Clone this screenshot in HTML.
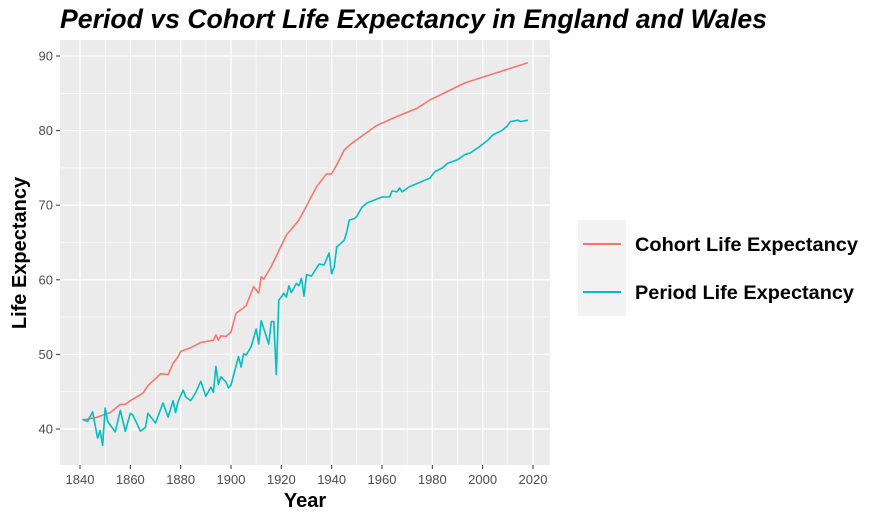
<!DOCTYPE html>
<html><head><meta charset="utf-8"><style>
body{margin:0;background:#fff;}
svg text{font-family:"Liberation Sans",sans-serif;}
</style></head><body>
<svg id="chart" width="877" height="522">
<text x="60" y="28" font-size="26.5" font-weight="bold" font-style="italic" fill="#000" textLength="707" lengthAdjust="spacingAndGlyphs">Period vs Cohort Life Expectancy in England and Wales</text>
<rect x="60" y="40" width="490" height="425" fill="#ebebeb"/>
<g id="grid"></g>
<g id="series"></g>
<g id="axes"></g>
<text x="305" y="507" font-size="20" font-weight="bold" text-anchor="middle">Year</text>
<text transform="translate(26,253) rotate(-90)" font-size="20" font-weight="bold" text-anchor="middle">Life Expectancy</text>
<rect x="578" y="220" width="48" height="96" fill="#f2f2f2"/>
<g>
<line x1="583" y1="244" x2="621" y2="244" stroke="#f8766d" stroke-width="2"/>
<text x="635" y="251" font-size="19" font-weight="bold" textLength="223" lengthAdjust="spacingAndGlyphs">Cohort Life Expectancy</text></g>
<g>
<line x1="583" y1="292" x2="621" y2="292" stroke="#00bfc4" stroke-width="2"/>
<text x="635" y="299" font-size="19" font-weight="bold" textLength="219" lengthAdjust="spacingAndGlyphs">Period Life Expectancy</text></g>
</svg>
<script>
const xTicks=[1840,1860,1880,1900,1920,1940,1960,1980,2000,2020];
const yTicks=[40,50,60,70,80,90];
const cohortYears=[1841,1846,1852,1856,1858,1860,1865,1867,1872,1875,1877,1879,1880,1884,1888,1893,1894,1895,1896,1898,1900,1902,1906,1909,1911,1912,1913,1916,1922,1927,1930,1934,1938,1940,1942,1945,1948,1950,1958,1966,1974,1979,1993,2006,2018];
const cohortValues=[41.2,41.5,42.2,43.3,43.3,43.8,44.8,45.8,47.4,47.3,48.8,49.7,50.4,50.9,51.6,51.9,52.6,51.9,52.5,52.4,53.0,55.5,56.5,59.1,58.2,60.4,60.1,61.8,66.0,68.0,69.9,72.5,74.2,74.2,75.4,77.4,78.3,78.8,80.7,81.9,83.0,84.1,86.4,87.8,89.1];
const periodYears=[1841,1843,1845,1847,1848,1849,1850,1851,1854,1856,1858,1860,1861,1864,1866,1867,1870,1873,1875,1877,1878,1879,1881,1882,1884,1886,1888,1890,1892,1893,1894,1895,1896,1898,1899,1900,1903,1904,1905,1906,1908,1910,1911,1912,1913,1915,1916,1917,1918,1919,1920,1921,1922,1923,1924,1926,1927,1928,1929,1930,1932,1935,1937,1939,1940,1941,1942,1945,1946,1947,1949,1950,1952,1954,1960,1963,1964,1966,1967,1968,1971,1976,1979,1981,1984,1986,1990,1993,1995,1999,2002,2004,2008,2010,2011,2014,2015,2018];
const periodValues=[41.3,41.0,42.3,38.8,39.8,37.8,42.8,41.0,39.6,42.5,39.7,42.1,41.9,39.7,40.2,42.1,40.8,43.5,41.6,43.8,42.2,43.7,45.2,44.3,43.8,44.9,46.4,44.4,45.6,44.9,48.4,46.0,47.0,46.3,45.5,45.9,49.7,48.3,50.1,49.9,51.0,53.4,51.4,54.5,53.5,51.4,54.4,54.4,47.3,57.3,57.7,58.2,57.7,59.2,58.3,59.5,59.2,60.2,57.8,60.7,60.5,62.1,62.0,63.6,60.8,61.7,64.4,65.3,66.4,68.0,68.2,68.5,69.7,70.3,71.1,71.1,71.9,71.8,72.3,71.8,72.5,73.2,73.6,74.5,75.0,75.6,76.1,76.8,77.0,77.9,78.7,79.4,80.1,80.7,81.2,81.4,81.2,81.4];
const NS='http://www.w3.org/2000/svg';
const x=yr=>80+(yr-1840)*2.5165;
const y=v=>429-(v-40)*7.46;
function mk(tag,attrs,parent){const e=document.createElementNS(NS,tag);for(const k in attrs)e.setAttribute(k,attrs[k]);parent.appendChild(e);return e;}
const grid=document.getElementById('grid'),axes=document.getElementById('axes'),series=document.getElementById('series');
for(let i=0;i<xTicks.length;i++){const v=xTicks[i];
 const m=mk('line',{x1:x(v+10),x2:x(v+10),y1:40,y2:465,stroke:'#fff','stroke-width':0.6},grid);
 if(x(v+10)>550)m.remove();
 const g=mk('line',{x1:x(v),x2:x(v),y1:40,y2:465,stroke:'#fff','stroke-width':1.3},grid);
 
 
 mk('line',{x1:x(v),x2:x(v),y1:465,y2:469,stroke:'#333','stroke-width':1},axes);
 const t=mk('text',{x:x(v),y:484,'font-size':13,fill:'#4d4d4d','text-anchor':'middle'},axes);
 t.textContent=v;
 
 }
mk('line',{x1:60,x2:550,y1:y(35),y2:y(35),stroke:'#fff','stroke-width':0.6},grid);
for(let i=0;i<yTicks.length;i++){const v=yTicks[i];
 if(v+5<=90)mk('line',{x1:60,x2:550,y1:y(v+5),y2:y(v+5),stroke:'#fff','stroke-width':0.6},grid);
 const g=mk('line',{x1:60,x2:550,y1:y(v),y2:y(v),stroke:'#fff','stroke-width':1.3},grid);
 
 
 mk('line',{x1:56,x2:60,y1:y(v),y2:y(v),stroke:'#333','stroke-width':1},axes);
 const t=mk('text',{x:53,y:y(v)+4.5,'font-size':13,fill:'#4d4d4d','text-anchor':'end'},axes);
 t.textContent=v;
 
 }
function path(xs,vs,color,name){
 const d=xs.map((yr,i)=>(i?'L':'M')+x(yr).toFixed(1)+','+y(vs[i]).toFixed(1)).join(' ');
 const p=mk('path',{d:d,fill:'none',stroke:color,'stroke-width':1.6,'stroke-linejoin':'round'},series);
 
 }
path(cohortYears,cohortValues,'#f8766d','cohort-line');
path(periodYears,periodValues,'#00bfc4','period-line');
</script>
</body></html>
